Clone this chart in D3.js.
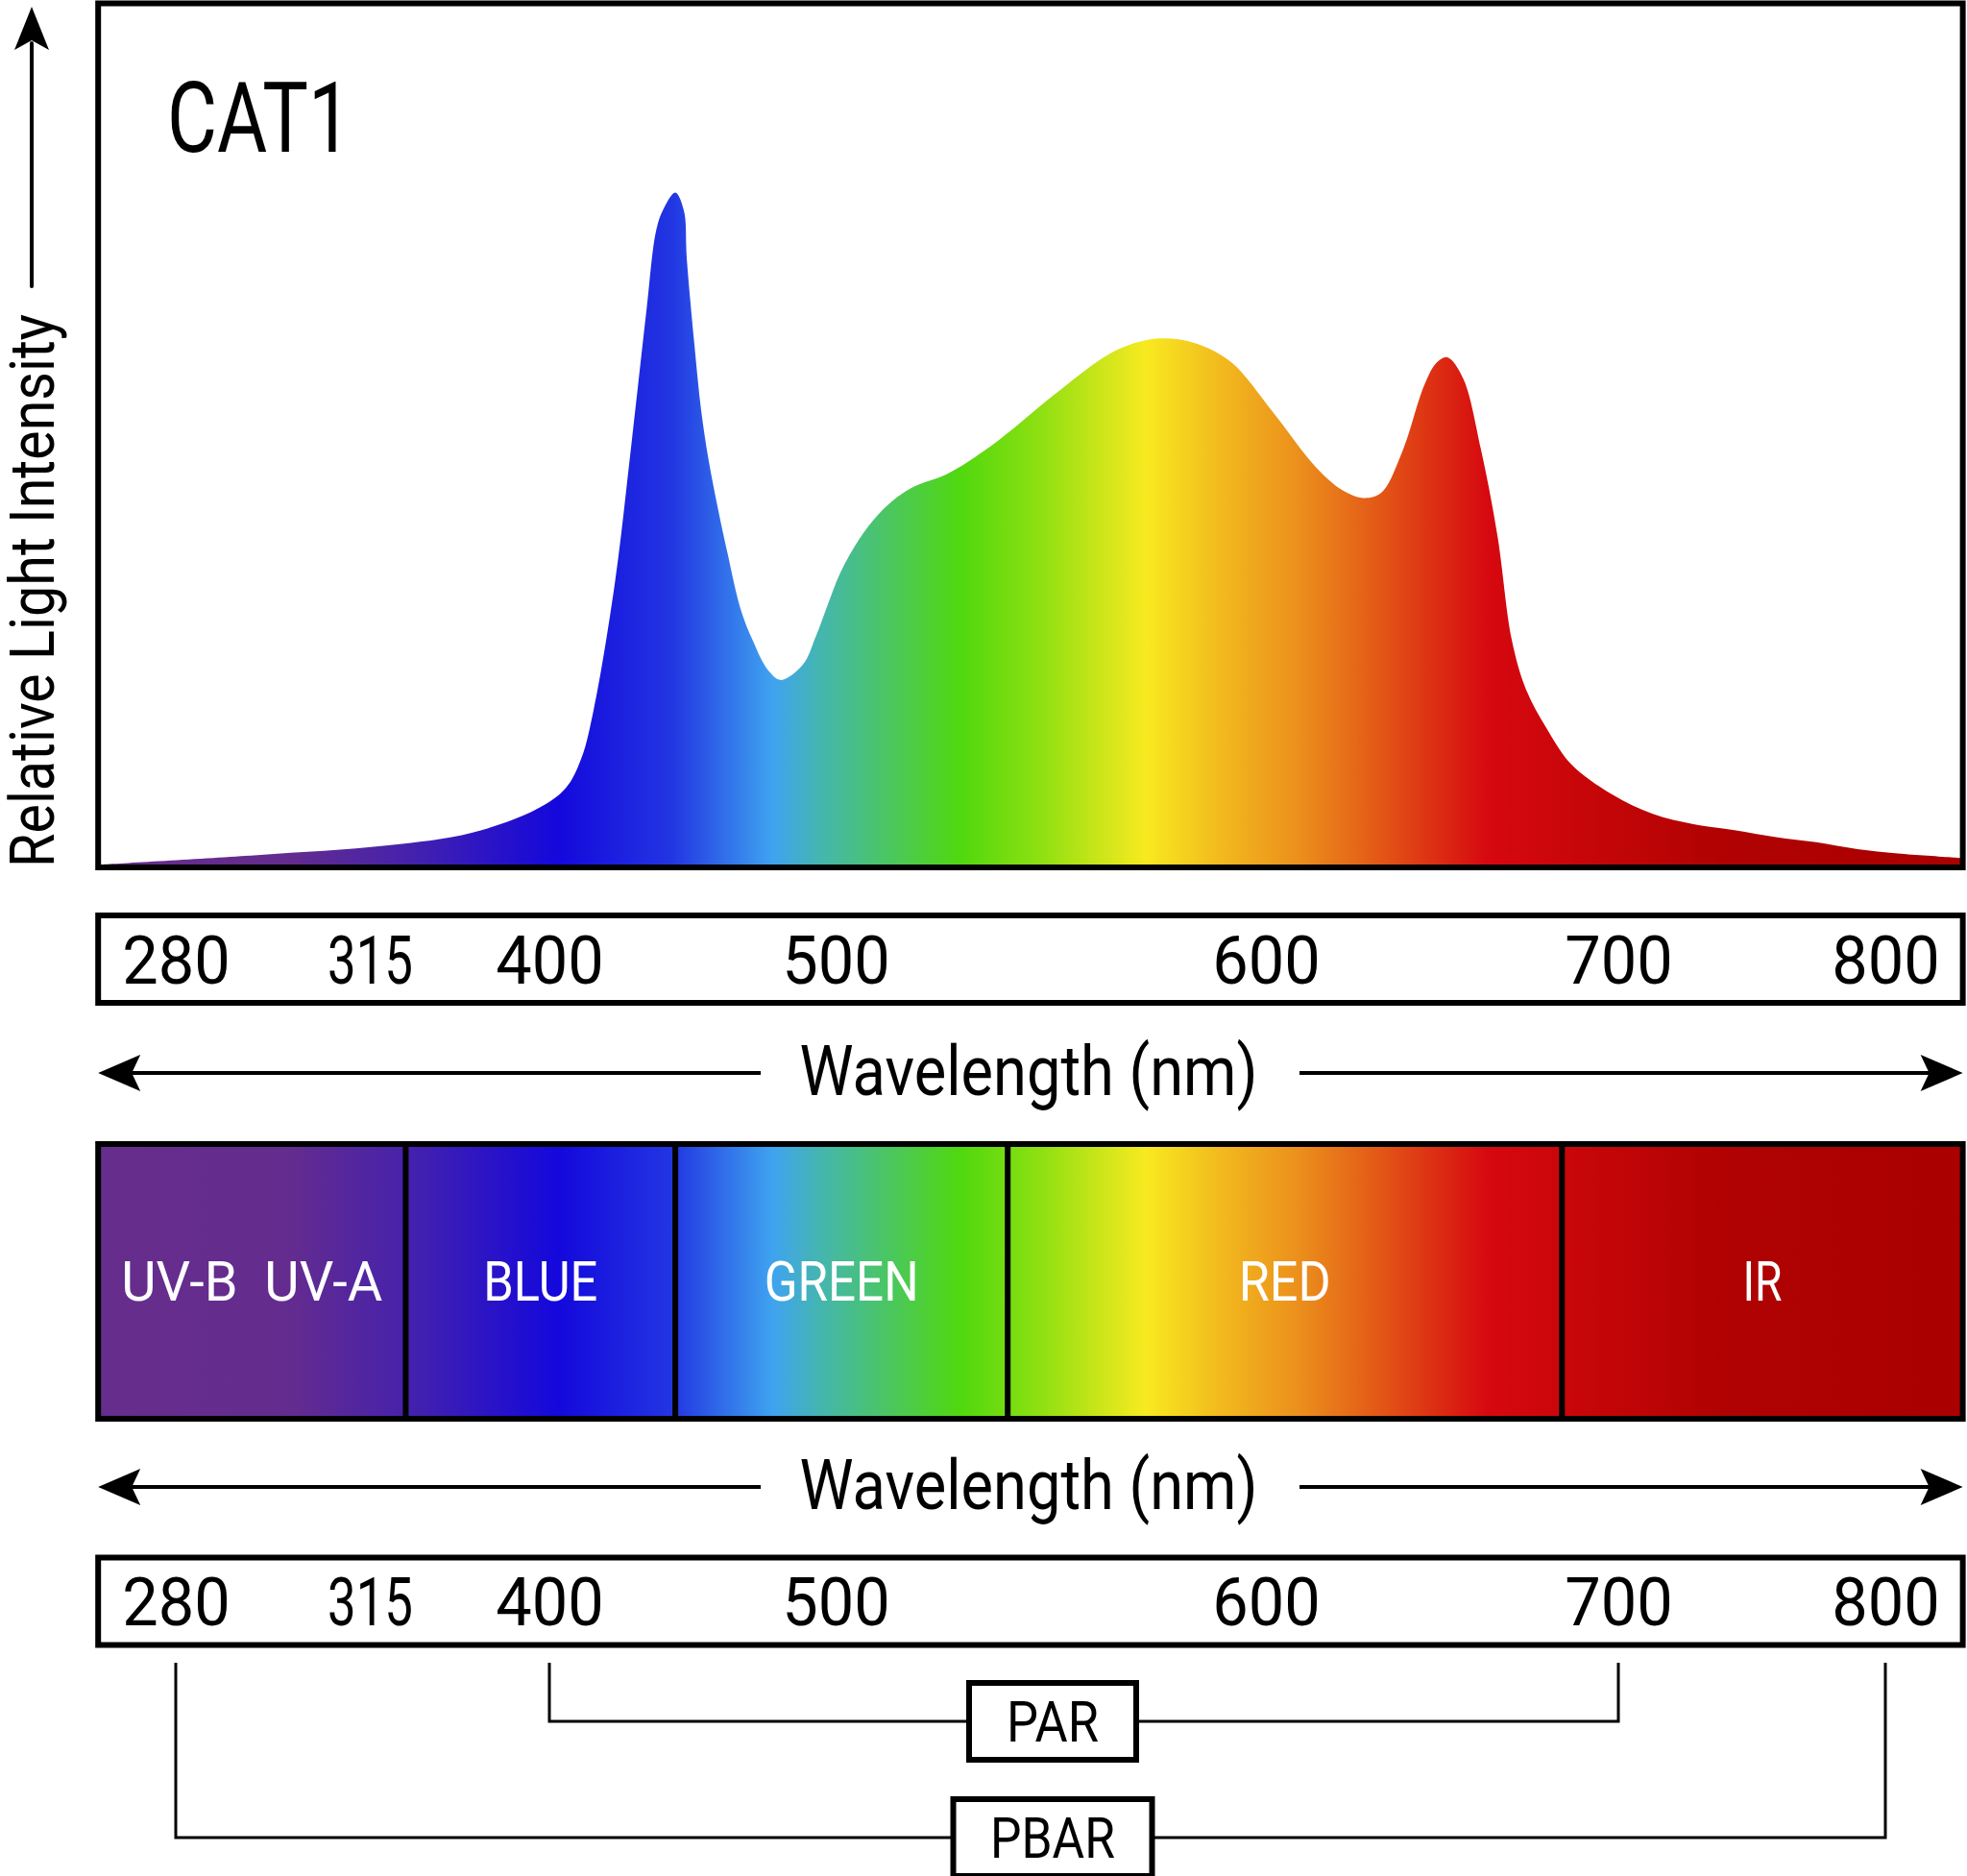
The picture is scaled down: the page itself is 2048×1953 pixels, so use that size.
<!DOCTYPE html>
<html>
<head>
<meta charset="utf-8">
<script src="https://cdn.jsdelivr.net/npm/d3@7"></script>
<style>
  html, body { margin: 0; padding: 0; background: #fff; }
  svg text { font-family: Roboto, "DejaVu Sans", sans-serif; }
</style>
</head>
<body>
<svg id="chart"></svg>
<script>

// DATA //
var title = "CAT1";
var yLabel = "Relative Light Intensity";
var xLabel = "Wavelength (nm)";
var wavelengthTicks = [280, 315, 400, 500, 600, 700, 800];

// spectrum (nm, relative intensity 0-100)
var spectrumNm = [266.5, 294.7, 322.7, 363.2, 393.6, 405.7, 411.1, 415.4, 422.8, 428.5,
  433.9, 437.2, 439.6, 444.0, 447.0, 448.0, 450.7, 453.0, 455.7, 459.5,
  462.3, 466.6, 470.8, 476.5, 480.9, 488.6, 493.0, 497.3, 501.1, 505.5,
  509.8, 514.3, 518.5, 525.9, 536.2,
  550.7, 562.3, 568.0, 575.4, 583.9, 592.0, 602.2, 614.4,
  621.8, 627.8, 632.7, 638.7, 645.0, 648.5, 651.5, 655.9, 661.0, 665.7,
  669.8, 673.8, 679.6, 686.6, 698.1, 712.9, 728.1, 743.5, 759.0, 774.1,
  789.6, 804.7, 826.3, 829];
var spectrumIntensity = [0, 1.1, 2.2, 3.7, 6.4, 8.9, 12.3, 17.9, 32.6, 48.5,
  64.5, 73.7, 76.2, 78.3, 76.2, 70.6, 60.5, 53.0, 47.0, 40.5,
  36.2, 30.0, 26.3, 22.6, 21.5, 23.3, 26.5, 30.3, 34.0, 37.9,
  40.7, 42.8, 44.1, 45.5, 48.8,
  54.7, 59.1, 60.5, 61.3, 60.7, 58.5, 52.6, 46.2,
  43.6, 42.7, 43.3, 48.1, 55.9, 58.5, 59.1, 56.7, 48.4, 38.3,
  26.1, 20.4, 15.9, 11.7, 8.2, 5.9, 4.7, 4.0, 3.2, 2.6,
  1.8, 1.3, 0.8, 0.7];

// colour bands (edges in nm)
var bandNames = ["UV-B  UV-A", "BLUE", "GREEN", "RED", "IR"];
var bandEdges = [266, 332, 444, 540, 684, 829];

// spectrum gradient
var stopNm = [266, 300, 332, 403, 443, 478, 495, 529, 548, 572, 590, 610, 635, 663, 690, 740, 829];
var stopColors = ["#662d8c", "#642c8e", "#4622ab", "#1408dc", "#2236e2", "#3fa3f0", "#45b6ae",
  "#50d80e", "#90e012", "#f8ea20", "#f2b81e", "#eb8e1c", "#e25016", "#d60810",
  "#c70609", "#b00202", "#aa0000"];

// PAR / PBAR ranges
var bracketNames = ["PAR", "PBAR"];
var bracketFrom = [400, 280];
var bracketTo = [700, 800];


// LAYOUT //
var width = 2048, height = 1953;
var tickPx = [183, 385, 572, 870, 1318, 1685, 1963];
var plot = {top: 3.5, bottom: 903};
var tickRows = [998.5, 1667];
var arrowRows = [1117, 1548];
var band = {top: 1191, bottom: 1477};
var bandLabelW = [272, 119, 161, 96, 41];
var bracketRows = [1792, 1913];
var bracketTop = 1731;
var bracketBoxW = [174, 207];
var bracketTextW = [96, 130];
var bracketCx = 1096;
var border = 6;

// condensed digit widths, the "1" is narrow in the original face
function digitsWidth(label) {
  return String(label).split("").reduce((s, c) => s + (c === "1" ? 14 : 37.5), 0);
}

var svg = d3.select("#chart")
  .attr("width", width)
  .attr("height", height);

var x = d3.scaleLinear()
  .domain(wavelengthTicks)
  .range(tickPx);

var y = d3.scaleLinear()
  .domain([0, 100])
  .range([plot.bottom - 3, plot.top + 3]);

var left = x(bandEdges[0]);
var right = x(bandEdges[bandEdges.length - 1]);

// gradient shared by curve and bands
var defs = svg.append("defs");
var grad = defs.append("linearGradient")
  .attr("id", "spectrum")
  .attr("gradientUnits", "userSpaceOnUse")
  .attr("x1", left).attr("x2", right)
  .attr("y1", 0).attr("y2", 0);
grad.selectAll("stop")
  .data(stopNm)
  .enter().append("stop")
    .attr("offset", d => (x(d) - left) / (right - left))
    .attr("stop-color", (d, i) => stopColors[i]);

defs.append("clipPath").attr("id", "plotClip")
  .append("rect")
    .attr("x", left).attr("y", plot.top)
    .attr("width", right - left).attr("height", plot.bottom - plot.top);


// SPECTRUM CHART //
var spectrum = spectrumNm.map((d, i) => ({nm: d, v: spectrumIntensity[i]}));

var area = d3.area()
  .x(d => x(d.nm))
  .y0(y(0) + 3)
  .y1(d => y(d.v))
  .curve(d3.curveCatmullRom.alpha(0.5));

svg.append("path")
  .datum(spectrum)
  .attr("clip-path", "url(#plotClip)")
  .attr("d", area)
  .attr("fill", "url(#spectrum)");

svg.append("rect")
  .attr("x", left).attr("y", plot.top)
  .attr("width", right - left).attr("height", plot.bottom - plot.top)
  .attr("fill", "none")
  .attr("stroke", "#000")
  .attr("stroke-width", border);

svg.append("text")
  .attr("x", 174).attr("y", 158)
  .attr("font-size", 102)
  .attr("textLength", 192)
  .attr("lengthAdjust", "spacingAndGlyphs")
  .text(title);

// y label + arrow
svg.append("text")
  .attr("transform", "translate(56, 903) rotate(-90)")
  .attr("font-size", 64)
  .attr("textLength", 576)
  .attr("lengthAdjust", "spacingAndGlyphs")
  .text(yLabel);

svg.append("line")
  .attr("x1", 33).attr("x2", 33)
  .attr("y1", 298).attr("y2", 45)
  .attr("stroke", "#000").attr("stroke-width", 4)
  .attr("stroke-linecap", "round");
svg.append("path")
  .attr("d", `M33,7 L51,52 L33,42 L15,52 Z`)
  .attr("fill", "#000");


// TICK BOXES //
tickRows.forEach(function(cy) {
  svg.append("rect")
    .attr("x", left).attr("y", cy - 45.5)
    .attr("width", right - left).attr("height", 91)
    .attr("fill", "#fff")
    .attr("stroke", "#000")
    .attr("stroke-width", border);

  var g = svg.append("g")
    .attr("transform", `translate(0, ${cy})`)
    .call(d3.axisBottom(x).tickValues(wavelengthTicks).tickSize(0).tickPadding(0));
  g.select(".domain").remove();
  g.attr("font-size", 70).attr("font-family", null);
  g.selectAll("text")
    .attr("y", 25)
    .attr("dy", null)
    .attr("fill", "#000")
    .attr("textLength", d => digitsWidth(d))
    .attr("lengthAdjust", "spacingAndGlyphs");
});


// WAVELENGTH ARROWS //
arrowRows.forEach(function(cy) {
  svg.append("text")
    .attr("x", 1071).attr("y", cy + 23)
    .attr("text-anchor", "middle")
    .attr("font-size", 73)
    .attr("textLength", 477)
    .attr("lengthAdjust", "spacingAndGlyphs")
    .text(xLabel);

  svg.append("line")
    .attr("x1", left + 20).attr("x2", 792)
    .attr("y1", cy).attr("y2", cy)
    .attr("stroke", "#000").attr("stroke-width", 4);
  svg.append("line")
    .attr("x1", 1353).attr("x2", right - 20)
    .attr("y1", cy).attr("y2", cy)
    .attr("stroke", "#000").attr("stroke-width", 4);

  svg.append("path")
    .attr("d", `M${left},${cy} L${left + 44},${cy - 19} L${left + 35},${cy} L${left + 44},${cy + 19} Z`)
    .attr("fill", "#000");
  svg.append("path")
    .attr("d", `M${right},${cy} L${right - 44},${cy - 19} L${right - 35},${cy} L${right - 44},${cy + 19} Z`)
    .attr("fill", "#000");
});


// COLOUR BANDS //
var bands = bandNames.map((d, i) => ({name: d, from: bandEdges[i], to: bandEdges[i + 1]}));

svg.selectAll(".band")
  .data(bands)
  .enter().append("rect")
    .attr("class", "band")
    .attr("x", d => x(d.from))
    .attr("y", band.top)
    .attr("width", d => x(d.to) - x(d.from))
    .attr("height", band.bottom - band.top)
    .attr("fill", "url(#spectrum)");

svg.selectAll(".divider")
  .data(bandEdges.slice(1, -1))
  .enter().append("line")
    .attr("class", "divider")
    .attr("x1", d => x(d)).attr("x2", d => x(d))
    .attr("y1", band.top).attr("y2", band.bottom)
    .attr("stroke", "#000").attr("stroke-width", 6);

svg.append("rect")
  .attr("x", left).attr("y", band.top)
  .attr("width", right - left).attr("height", band.bottom - band.top)
  .attr("fill", "none")
  .attr("stroke", "#000")
  .attr("stroke-width", border);

svg.selectAll(".bandLabel")
  .data(bands)
  .enter().append("text")
    .attr("class", "bandLabel")
    .attr("x", d => (x(d.from) + x(d.to)) / 2)
    .attr("y", 1354)
    .attr("text-anchor", "middle")
    .attr("font-size", 58)
    .attr("fill", "#fff")
    .attr("textLength", (d, i) => bandLabelW[i])
    .attr("lengthAdjust", "spacingAndGlyphs")
    .style("white-space", "pre")
    .text(d => d.name);


// PAR / PBAR BRACKETS //
bracketNames.forEach(function(name, i) {
  var cy = bracketRows[i];
  var x0 = x(bracketFrom[i]), x1 = x(bracketTo[i]);

  svg.append("path")
    .attr("d", `M${x0},${bracketTop} V${cy} H${x1} V${bracketTop}`)
    .attr("fill", "none")
    .attr("stroke", "#000")
    .attr("stroke-width", 3);

  svg.append("rect")
    .attr("x", bracketCx - bracketBoxW[i] / 2)
    .attr("y", cy - 40)
    .attr("width", bracketBoxW[i])
    .attr("height", 80)
    .attr("fill", "#fff")
    .attr("stroke", "#000")
    .attr("stroke-width", border);

  svg.append("text")
    .attr("x", bracketCx).attr("y", cy + 21)
    .attr("text-anchor", "middle")
    .attr("font-size", 60)
    .attr("textLength", bracketTextW[i])
    .attr("lengthAdjust", "spacingAndGlyphs")
    .text(name);
});

</script>
</body>
</html>
